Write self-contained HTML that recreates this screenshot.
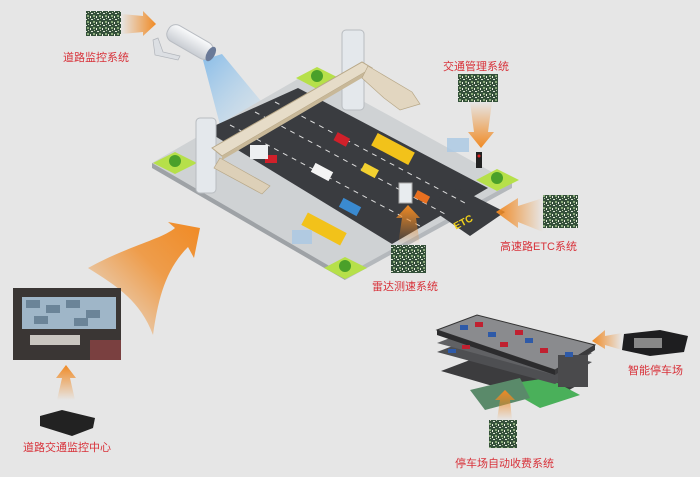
<!DOCTYPE html>
<html><head><meta charset="utf-8"><style>
html,body{margin:0;padding:0;background:#e6e6e6;}
svg{display:block}
text{font-family:"Liberation Sans","Noto Sans CJK SC",sans-serif;fill:#d8323a;font-size:11px}
</style></head><body>
<svg width="700" height="477" viewBox="0 0 700 477" xmlns="http://www.w3.org/2000/svg">
<defs>
<linearGradient id="gR" x1="0" y1="0" x2="1" y2="0"><stop offset="0" stop-color="#f08a24" stop-opacity="0"/><stop offset="1" stop-color="#f08a24"/></linearGradient>
<linearGradient id="gL" x1="1" y1="0" x2="0" y2="0"><stop offset="0" stop-color="#f08a24" stop-opacity="0"/><stop offset="1" stop-color="#f08a24"/></linearGradient>
<linearGradient id="gD" x1="0" y1="0" x2="0" y2="1"><stop offset="0" stop-color="#f08a24" stop-opacity="0"/><stop offset="1" stop-color="#f08a24"/></linearGradient>
<linearGradient id="gU" x1="0" y1="1" x2="0" y2="0"><stop offset="0" stop-color="#f08a24" stop-opacity="0"/><stop offset="1" stop-color="#f08a24"/></linearGradient>
<linearGradient id="gBig" x1="0" y1="1" x2="1" y2="0"><stop offset="0" stop-color="#f08a24" stop-opacity="0"/><stop offset="0.6" stop-color="#f08a24" stop-opacity="0.8"/><stop offset="1" stop-color="#f08a24"/></linearGradient>
<linearGradient id="cone" x1="0" y1="0" x2="1" y2="1"><stop offset="0" stop-color="#7fb8e8" stop-opacity="0.9"/><stop offset="1" stop-color="#b8d8f0" stop-opacity="0.2"/></linearGradient>
<linearGradient id="cam" x1="0" y1="0" x2="0" y2="1"><stop offset="0" stop-color="#fafbfc"/><stop offset="1" stop-color="#c8ccd2"/></linearGradient>
<pattern id="pcb" width="6" height="6" patternUnits="userSpaceOnUse"><rect width="6" height="6" fill="#34503a"/><rect x="1" y="1" width="2" height="1" fill="#dfe6d8"/><rect x="3" y="3" width="2" height="2" fill="#8aaa7a"/><rect x="0" y="4" width="1" height="2" fill="#eef0e0"/><rect x="4" y="0" width="1" height="1" fill="#c0c8b0"/></pattern>
</defs>

<!-- camera -->
<polygon points="203,60 222,54 270,112 220,125" fill="url(#cone)"/>
<polygon points="153,40 158,38 163,52 180,56 178,60 155,55" fill="#dcdfe3" stroke="#b0b4ba" stroke-width="0.7"/>
<g transform="rotate(30 190 42)">
<rect x="165" y="33" width="50" height="18" rx="8" fill="url(#cam)" stroke="#b8bcc2"/>
<ellipse cx="214" cy="42" rx="4" ry="8" fill="#6a7a98"/>
</g>

<!-- chip top-left + arrow -->
<rect x="86" y="11" width="35" height="25" fill="url(#pcb)"/>
<polygon points="121,14 143,16 143,11 156,24 143,36 143,32 121,34" fill="url(#gR)"/>
<text x="63" y="61">道路监控系统</text>

<!-- road platform base -->
<polygon points="152,163 310,72 512,183 345,275" fill="#cfd2d4"/>
<polygon points="152,163 345,275 345,280 152,168" fill="#9ea2a6"/>
<polygon points="345,275 512,183 512,188 345,280" fill="#b4b8bc"/>
<!-- asphalt -->
<polygon points="205,130 298,88 488,188 392,244" fill="#3a3c40"/>
<polygon points="425,205 458,188 505,212 470,236" fill="#3a3c40"/>
<text x="453" y="226" style="fill:#f2d21a;font-size:10px;font-weight:bold" transform="rotate(-28 462 222)">ETC</text>
<g stroke="#ddd" stroke-width="1" stroke-dasharray="5,5">
<line x1="230" y1="125" x2="420" y2="226"/>
<line x1="255" y1="112" x2="445" y2="214"/>
<line x1="275" y1="102" x2="465" y2="203"/>
</g>
<!-- green pads -->
<g fill="#b6e04a"><polygon points="153,163 175,152 197,163 175,174"/><polygon points="296,78 317,67 339,78 317,89"/><polygon points="476,180 497,169 519,180 497,191"/><polygon points="324,268 345,257 367,268 345,279"/></g>
<g fill="#4aa02a"><circle cx="175" cy="161" r="6"/><circle cx="317" cy="76" r="6"/><circle cx="497" cy="178" r="6"/><circle cx="345" cy="266" r="6"/></g>
<!-- vehicles -->
<rect x="372" y="142" width="42" height="14" fill="#f2c21a" transform="rotate(28 393 149)"/>
<rect x="302" y="222" width="44" height="14" fill="#f2c21a" transform="rotate(28 324 229)"/>
<rect x="335" y="135" width="14" height="9" fill="#d0202a" transform="rotate(28 342 139)"/>
<rect x="265" y="155" width="12" height="8" fill="#d0202a"/>
<rect x="312" y="167" width="20" height="10" fill="#f4f4f4" transform="rotate(28 322 172)"/>
<rect x="362" y="166" width="16" height="9" fill="#f2d030" transform="rotate(28 370 170)"/>
<rect x="340" y="202" width="20" height="10" fill="#3a8ad0" transform="rotate(28 350 207)"/>
<rect x="415" y="193" width="14" height="8" fill="#e87020" transform="rotate(28 422 197)"/>
<rect x="250" y="145" width="18" height="14" fill="#eef0f2"/>
<!-- towers -->
<rect x="196" y="118" width="20" height="75" rx="4" fill="#e4e8ec" stroke="#b8bcc0"/>
<rect x="342" y="30" width="22" height="80" rx="4" fill="#e4e8ec" stroke="#b8bcc0"/>
<!-- footbridge (thin) -->
<polygon points="212,148 362,62 372,68 222,156" fill="#e6dcc8" stroke="#b8a888"/>
<polygon points="222,156 372,68 372,72 222,160" fill="#c8b898"/>
<polygon points="368,66 412,92 420,104 400,110 384,98 362,78" fill="#e2d6c0" stroke="#b8a888" stroke-width="0.7"/>
<polygon points="220,158 270,186 262,194 214,168" fill="#ddd0b8" stroke="#b8a888" stroke-width="0.7"/>
<!-- bus stops -->
<rect x="447" y="138" width="22" height="14" fill="#a9c8e4" opacity="0.8"/>
<rect x="292" y="230" width="20" height="14" fill="#a9c8e4" opacity="0.8"/>
<!-- radar -->
<rect x="399" y="183" width="13" height="20" fill="#e8ecef" stroke="#aaa"/>
<!-- traffic light -->
<rect x="476" y="152" width="6" height="16" fill="#222"/>
<circle cx="479" cy="156" r="1.5" fill="#e02020"/>

<!-- 交通管理系统 -->
<text x="443" y="70">交通管理系统</text>
<rect x="458" y="74" width="40" height="28" fill="url(#pcb)"/>
<polygon points="470,102 492,102 488,132 494,132 481,148 468,132 474,132" fill="url(#gD)"/>
<!-- ETC -->
<rect x="543" y="195" width="35" height="33" fill="url(#pcb)"/>
<polygon points="543,198 543,232 518,222 518,228 496,212 518,198 518,206" fill="url(#gL)"/>
<text x="500" y="250">高速路ETC系统</text>
<!-- radar label -->
<polygon points="398,245 420,245 416,218 420,218 408,205 396,218 402,218" fill="url(#gU)"/>
<rect x="391" y="245" width="35" height="28" fill="url(#pcb)"/>
<text x="372" y="290">雷达测速系统</text>

<!-- big curved arrow -->
<path d="M88,268 C130,245 160,240 175,228 L168,222 L200,228 L194,258 L188,247 C165,270 158,300 153,335 C140,300 115,285 88,268 Z" fill="url(#gBig)"/>

<!-- monitoring photo -->
<rect x="13" y="288" width="108" height="72" fill="#3a3634"/>
<rect x="22" y="297" width="94" height="32" fill="#9fb6c8"/>
<g fill="#6b8498"><rect x="26" y="300" width="14" height="8"/><rect x="46" y="305" width="14" height="8"/><rect x="66" y="300" width="14" height="8"/><rect x="86" y="310" width="14" height="8"/><rect x="34" y="316" width="14" height="8"/><rect x="74" y="318" width="14" height="8"/></g>
<rect x="30" y="335" width="50" height="10" fill="#c9c6bf"/>
<rect x="90" y="340" width="31" height="20" fill="#7a4040"/>

<!-- server box + arrow -->
<polygon points="57,400 75,400 70,378 76,378 66,365 56,378 62,378" fill="url(#gU)"/>
<polygon points="40,416 62,410 95,418 93,428 72,436 40,426" fill="#222"/>
<text x="23" y="451">道路交通监控中心</text>

<!-- parking structure -->
<polygon points="441,371 470,360 578,385 548,402" fill="#3c3c3e"/>
<polygon points="500,385 548,378 580,395 540,408" fill="#4ab05a"/>
<polygon points="470,390 520,378 530,398 485,410" fill="#5a8a6a"/>
<polygon points="437,352 476,337 592,362 555,384" fill="#4e4f52"/>
<polygon points="437,343 476,328 592,353 555,375" fill="#606164"/>
<polygon points="437,330 477,315 595,345 555,370" fill="#8a8b8e" stroke="#333"/>
<polygon points="437,330 555,370 555,375 437,335" fill="#2c2c2e"/>
<polygon points="555,370 595,345 595,350 555,375" fill="#3a3a3c"/>
<rect x="558" y="355" width="30" height="32" fill="#4a4a4c"/>
<g fill="#c02030"><rect x="475" y="322" width="8" height="5"/><rect x="500" y="342" width="8" height="5"/><rect x="540" y="348" width="8" height="5"/><rect x="462" y="345" width="8" height="4"/><rect x="515" y="330" width="8" height="5"/></g>
<g fill="#2e5aa8"><rect x="460" y="325" width="8" height="5"/><rect x="488" y="332" width="8" height="5"/><rect x="525" y="338" width="8" height="5"/><rect x="565" y="352" width="8" height="5"/><rect x="448" y="349" width="8" height="4"/></g>
<!-- parking right device -->
<polygon points="624,334 660,330 688,336 684,352 650,356 622,350" fill="#1e1e20"/>
<rect x="634" y="338" width="28" height="10" fill="#888"/>
<polygon points="622,333 622,350 605,345 605,349 592,341 605,330 605,336" fill="url(#gL)"/>
<text x="628" y="374">智能停车场</text>
<!-- parking bottom chip -->
<polygon points="497,420 512,420 510,400 515,400 505,390 495,400 500,400" fill="url(#gU)"/>
<rect x="489" y="420" width="28" height="28" fill="url(#pcb)"/>
<text x="455" y="467">停车场自动收费系统</text>
</svg>
</body></html>
